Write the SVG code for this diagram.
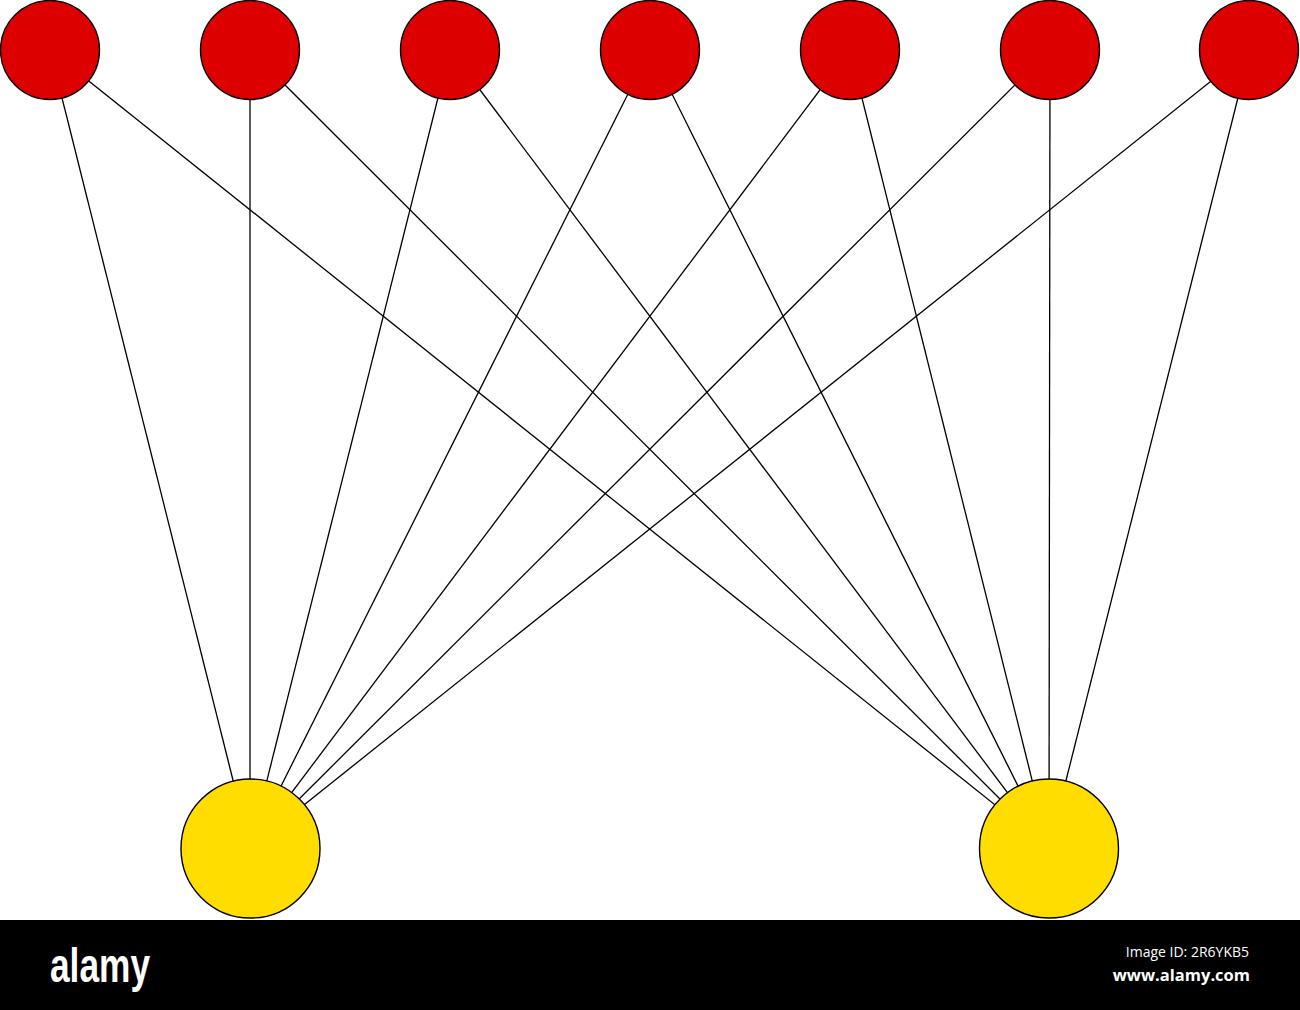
<svg xmlns="http://www.w3.org/2000/svg" width="1300" height="1010" viewBox="0 0 1300 1010">
<style>
.e{stroke:#000;stroke-width:1.3;fill:none}
.r{fill:#dd0000;stroke:#000;stroke-width:1.4}
.y{fill:#ffdd00;stroke:#000;stroke-width:1.4}
</style>
<rect width="1300" height="1010" fill="#fff"/>
<g id="connectors" class="e">
<line x1="50" y1="50" x2="250" y2="848"/><line x1="50" y1="50" x2="1049" y2="848"/>
<line x1="250" y1="50" x2="250" y2="848"/><line x1="250" y1="50" x2="1049" y2="848"/>
<line x1="450" y1="50" x2="250" y2="848"/><line x1="450" y1="50" x2="1049" y2="848"/>
<line x1="650" y1="50" x2="250" y2="848"/><line x1="650" y1="50" x2="1049" y2="848"/>
<line x1="850" y1="50" x2="250" y2="848"/><line x1="850" y1="50" x2="1049" y2="848"/>
<line x1="1050" y1="50" x2="250" y2="848"/><line x1="1050" y1="50" x2="1049" y2="848"/>
<line x1="1250" y1="50" x2="250" y2="848"/><line x1="1250" y1="50" x2="1049" y2="848"/>
</g>
<g id="r1"><circle class="r" cx="50" cy="50" r="49.5"/></g>
<g id="r2"><circle class="r" cx="250" cy="50" r="49.5"/></g>
<g id="r3"><circle class="r" cx="450" cy="50" r="49.5"/></g>
<g id="r4"><circle class="r" cx="650" cy="50" r="49.5"/></g>
<g id="r5"><circle class="r" cx="850" cy="50" r="49.5"/></g>
<g id="r6"><circle class="r" cx="1050" cy="50" r="49.5"/></g>
<g id="r7"><circle class="r" cx="1249" cy="50" r="49.5"/></g>
<g id="y1"><circle class="y" cx="250.5" cy="848.5" r="69.5"/></g>
<g id="y2"><circle class="y" cx="1049" cy="848.5" r="69.5"/></g>
<g id="watermark">
<rect x="0" y="920" width="1300" height="90" fill="#000"/>
<text x="50" y="982" font-family="Liberation Sans, sans-serif" font-weight="bold" font-size="48" fill="#fff" textLength="100" lengthAdjust="spacingAndGlyphs">alamy</text>
<text x="1249" y="957" text-anchor="end" font-family="Open Sans, DejaVu Sans, sans-serif" font-size="14" fill="#fff">Image ID: 2R6YKB5</text>
<text x="1250" y="981" text-anchor="end" font-family="Open Sans, DejaVu Sans, sans-serif" font-weight="bold" font-size="16.5" fill="#fff">www.alamy.com</text>
</g>
</svg>
